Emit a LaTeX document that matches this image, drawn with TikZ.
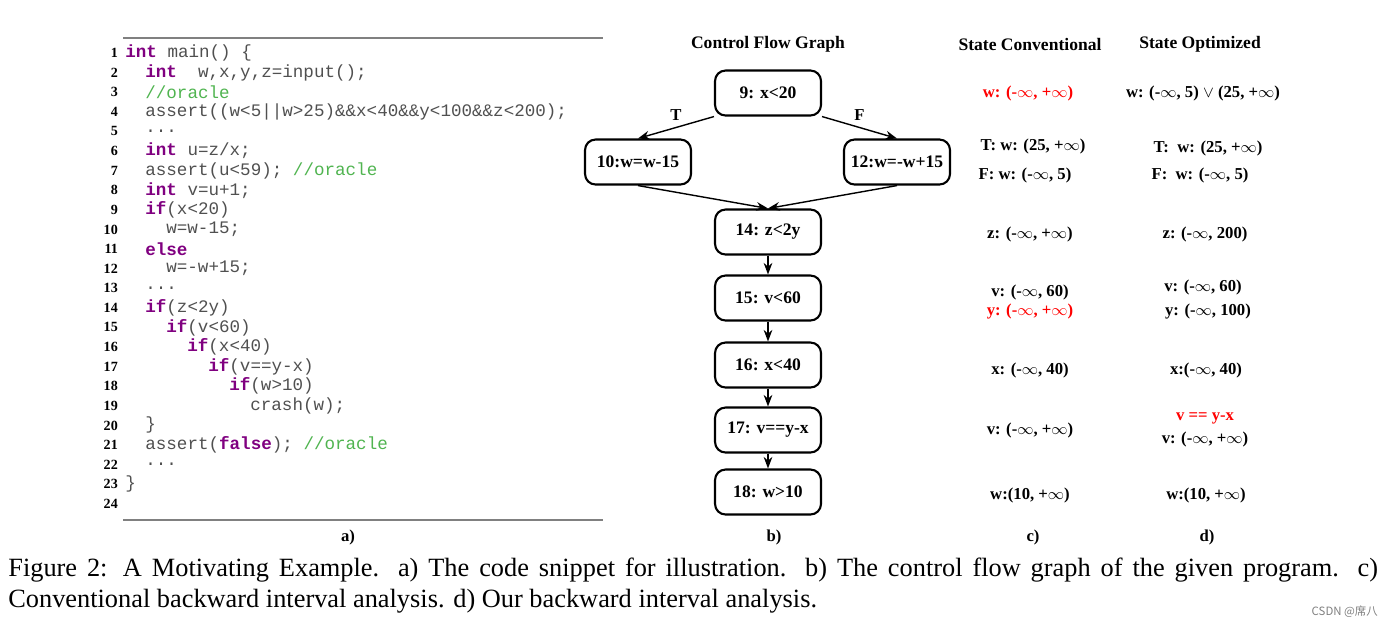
\documentclass[tikz,border=0pt]{standalone}
\usepackage{fontspec}
\setmainfont{Liberation Serif}
\setmonofont{Liberation Mono}
\newfontfamily\cjk{Noto Sans CJK SC}
\usetikzlibrary{arrows.meta,positioning}
\definecolor{kwpurple}{RGB}{128,0,128}
\definecolor{cmgreen}{RGB}{80,180,80}
\definecolor{codegray}{RGB}{80,80,80}
\newcommand{\kw}[1]{\textcolor{kwpurple}{\bfseries #1}}
\newcommand{\cm}[1]{\textcolor{cmgreen}{#1}}
\begin{document}
\begin{tikzpicture}[
  x=0.02cm, y=-0.02cm,
  blk/.style={draw, line width=1.2pt, rounded corners=6pt, minimum width=2.12cm, minimum height=0.9cm, font=\bfseries\fontsize{10}{12}\selectfont},
  state/.style={font=\bfseries\fontsize{9.5}{11}\selectfont},
  hdr/.style={font=\bfseries\fontsize{10}{12}\selectfont},
  lno/.style={anchor=east, font=\bfseries\fontsize{8}{10}\selectfont},
  code/.style={anchor=west, inner xsep=0pt, font=\ttfamily\fontsize{10}{12}\selectfont, text=codegray},
  captext/.style={anchor=west, inner sep=0pt, font=\fontsize{15}{16}\selectfont},
  >=Stealth
]
\useasboundingbox (0,0) rectangle (1386,627);

% Code
\draw[gray, thick] (123,38) -- (603,38);
\draw[gray, thick] (123,520) -- (603,520);
\foreach \i in {1,...,24} \node[lno] (n\i) at (124,53+19.6*\i-19.6) {\i};
\node[code] (c1)  at (125,53)    {\kw{int} main() \{};
\node[code] (c2)  at (145,72.6)  {\kw{int}\ \ w,x,y,z=input();};
\node[code] (c3)  at (145,92.2)  {\cm{//oracle}};
\node[code] (c4)  at (145,111.8) {assert((w<5||w>25)\&\&x<40\&\&y<100\&\&z<200);};
\node[code] (c5)  at (145,131.4) {...};
\node[code] (c6)  at (145,151)   {\kw{int} u=z/x;};
\node[code] (c7)  at (145,170.6) {assert(u<59); \cm{//oracle}};
\node[code] (c8)  at (145,190.2) {\kw{int} v=u+1;};
\node[code] (c9)  at (145,209.8) {\kw{if}(x<20)};
\node[code] (c10) at (166,229.4) {w=w-15;};
\node[code] (c11) at (145,249)   {\kw{else}};
\node[code] (c12) at (166,268.6) {w=-w+15;};
\node[code] (c13) at (145,288.2) {...};
\node[code] (c14) at (145,307.8) {\kw{if}(z<2y)};
\node[code] (c15) at (166,327.4) {\kw{if}(v<60)};
\node[code] (c16) at (187,347)   {\kw{if}(x<40)};
\node[code] (c17) at (208,366.6) {\kw{if}(v==y-x)};
\node[code] (c18) at (229,386.2) {\kw{if}(w>10)};
\node[code] (c19) at (250,405.8) {crash(w);};
\node[code] (c20) at (145,425.4) {\}};
\node[code] (c21) at (145,445)   {assert(\kw{false}); \cm{//oracle}};
\node[code] (c22) at (145,464.6) {...};
\node[code] (c23) at (125,484.2) {\}};

% Control flow graph
\node[hdr] (cfg) at (768,44) {Control Flow Graph};
\node[blk] (b9)  at (768,93)  {9: x<20};
\node[blk] (b10) at (638,162) {10:w=w-15};
\node[blk] (b12) at (897,162) {12:w=-w+15};
\node[blk] (b14) at (768,232) {14: z<2y};
\node[blk] (b15) at (768,298) {15: v<60};
\node[blk] (b16) at (768,365) {16: x<40};
\node[blk] (b17) at (768,430) {17: v==y-x};
\node[blk] (b18) at (768,492) {18: w>10};
\draw[->, thick] (b9.south west) -- node[above, state] {T} (b10.north);
\draw[->, thick] (b9.south east) -- node[above, state] {F} (b12.north);
\draw[->, thick] (b10.south) -- (b14.north);
\draw[->, thick] (b12.south) -- (b14.north);
\draw[->, thick] (b14) -- (b15);
\draw[->, thick] (b15) -- (b16);
\draw[->, thick] (b16) -- (b17);
\draw[->, thick] (b17) -- (b18);

% States
\node[hdr] (hc) at (1030,44) {State Conventional};
\node[hdr] (hd) at (1200,44) {State Optimized};
\node[state, red] (c9s) at (1028,93) {w: (-$\infty$, +$\infty$)};
\node[state] (c12t) at (1033,146) {T: w: (25, +$\infty$)};
\node[state] (c12f) at (1025,175) {F: w: (-$\infty$, 5)};
\node[state] (c14s) at (1030,234) {z: (-$\infty$, +$\infty$)};
\node[state] (c15v) at (1030,292) {v: (-$\infty$, 60)};
\node[state, red] (c15y) at (1030,311) {y: (-$\infty$, +$\infty$)};
\node[state] (c16s) at (1030,370) {x: (-$\infty$, 40)};
\node[state] (c17s) at (1030,430) {v: (-$\infty$, +$\infty$)};
\node[state] (c18s) at (1030,495) {w:(10, +$\infty$)};
\node[state] (d9s) at (1203,93) {w: (-$\infty$, 5) $\vee$ (25, +$\infty$)};
\node[state] (d12t) at (1208,148) {T:\ \ w: (25, +$\infty$)};
\node[state] (d12f) at (1200,175) {F:\ \ w: (-$\infty$, 5)};
\node[state] (d14s) at (1205,234) {z: (-$\infty$, 200)};
\node[state] (d15v) at (1203,287) {v: (-$\infty$, 60)};
\node[state] (d15y) at (1208,311) {y: (-$\infty$, 100)};
\node[state] (d16s) at (1206,370) {x:(-$\infty$, 40)};
\node[state, red] (d17e) at (1205,418) {v == y-x};
\node[state] (d17s) at (1205,439) {v: (-$\infty$, +$\infty$)};
\node[state] (d18s) at (1206,495) {w:(10, +$\infty$)};

% Sub-labels
\node[state] (la) at (348,537) {a)};
\node[state] (lb) at (774,537) {b)};
\node[state] (lc) at (1033,537) {c)};
\node[state] (ld) at (1207,537) {d)};

% Caption
\node[captext] (cap1) at (8,570) {\makebox[27.4cm][s]{Figure 2: A Motivating Example. a) The code snippet for illustration. b) The control flow graph of the given program. c)}};
\node[captext] (cap2) at (8,601) {Conventional backward interval analysis. d) Our backward interval analysis.};
\node[anchor=east, text=gray, font=\cjk\fontsize{6.5}{8}\selectfont] (wm) at (1384,612) {CSDN @席八};
\end{tikzpicture}
\end{document}
